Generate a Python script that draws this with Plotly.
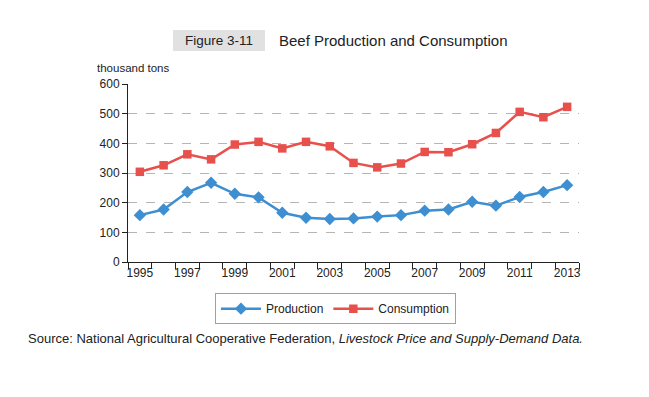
import plotly.graph_objects as go

years = list(range(1995, 2014))
production = [158, 177, 236, 267, 230, 218, 166, 149, 145, 147, 153, 158, 173, 177, 203, 190, 219, 236, 259]
consumption = [304, 326, 363, 346, 396, 405, 383, 405, 390, 334, 319, 332, 371, 370, 397, 435, 506, 488, 523]
x_labels = [1995, 1997, 1999, 2001, 2003, 2005, 2007, 2009, 2011, 2013]
y_ticks = [0, 100, 200, 300, 400, 500, 600]

FONT = "Liberation Sans, Arial, Helvetica, sans-serif"
BLUE = "#3d8fd1"
RED = "#e8504c"

fig = go.Figure()
fig.add_trace(go.Scatter(
    x=years, y=production, name="Production", mode="lines+markers",
    line=dict(color=BLUE, width=2.5),
    marker=dict(symbol="diamond", size=9.5, color=BLUE),
))
fig.add_trace(go.Scatter(
    x=years, y=consumption, name="Consumption", mode="lines+markers",
    line=dict(color=RED, width=2.5),
    marker=dict(symbol="square", size=8.5, color=RED),
))

fig.update_layout(
    width=649, height=397,
    margin=dict(l=128, r=70, t=84, b=135),
    paper_bgcolor="white", plot_bgcolor="white",
    font=dict(family=FONT, size=12, color="#222222"),
    showlegend=True,
    legend=dict(
        orientation="h", x=0.46, xanchor="center", y=-0.175, yanchor="top",
        bordercolor="#a0a0a0", borderwidth=1, bgcolor="white",
        font=dict(size=12, color="#222222"),
        itemwidth=40, tracegroupgap=0,
    ),
    xaxis=dict(
        range=[1994.5, 2013.5], tickmode="array", tickvals=x_labels,
        ticks="", showgrid=False, zeroline=False, automargin=False,
        showline=True, linecolor="#222222", linewidth=1,
        tickfont=dict(size=12, color="#222222"),
        minor=dict(tickmode="linear", tick0=1994.5, dtick=1, ticks="outside",
                   ticklen=6, tickcolor="#222222", showgrid=False),
    ),
    yaxis=dict(
        range=[0, 600], tickmode="array", tickvals=y_ticks,
        ticks="outside", ticklen=5, tickcolor="#222222", automargin=False,
        showline=True, linecolor="#222222", linewidth=1,
        showgrid=True, gridcolor="#b5b5b5", griddash="dash", gridwidth=1,
        zeroline=False,
        tickfont=dict(size=12, color="#222222"),
    ),
)

# Title box
fig.add_shape(type="rect", xref="paper", yref="paper",
              x0=(173 - 128) / 451, x1=(265 - 128) / 451,
              y0=(262 - 51) / 178, y1=(262 - 30) / 178,
              fillcolor="#e1e1e1", line=dict(width=0), layer="below")
fig.add_annotation(text="Figure 3-11", xref="paper", yref="paper",
                   x=(219 - 128) / 451, y=(262 - 40.5) / 178,
                   xanchor="center", yanchor="middle", showarrow=False,
                   font=dict(size=13.5, color="#222222"))
fig.add_annotation(text="Beef Production and Consumption", xref="paper", yref="paper",
                   x=(277 - 128) / 451, y=(262 - 40.5) / 178,
                   xanchor="left", yanchor="middle", showarrow=False,
                   font=dict(size=15, color="#222222"))
fig.add_annotation(text="thousand tons", xref="paper", yref="paper",
                   x=(95 - 128) / 451, y=(262 - 68) / 178,
                   xanchor="left", yanchor="middle", showarrow=False,
                   font=dict(size=11.5, color="#222222"))
fig.add_annotation(
    text="Source: National Agricultural Cooperative Federation, <i>Livestock Price and Supply-Demand Data.</i>",
    xref="paper", yref="paper",
    x=(26 - 128) / 451, y=(262 - 338) / 178,
    xanchor="left", yanchor="middle", showarrow=False,
    font=dict(size=13, color="#222222"))

fig.write_html("out.html", config={"displayModeBar": False},
               post_script="document.body.style.margin='0px';")
